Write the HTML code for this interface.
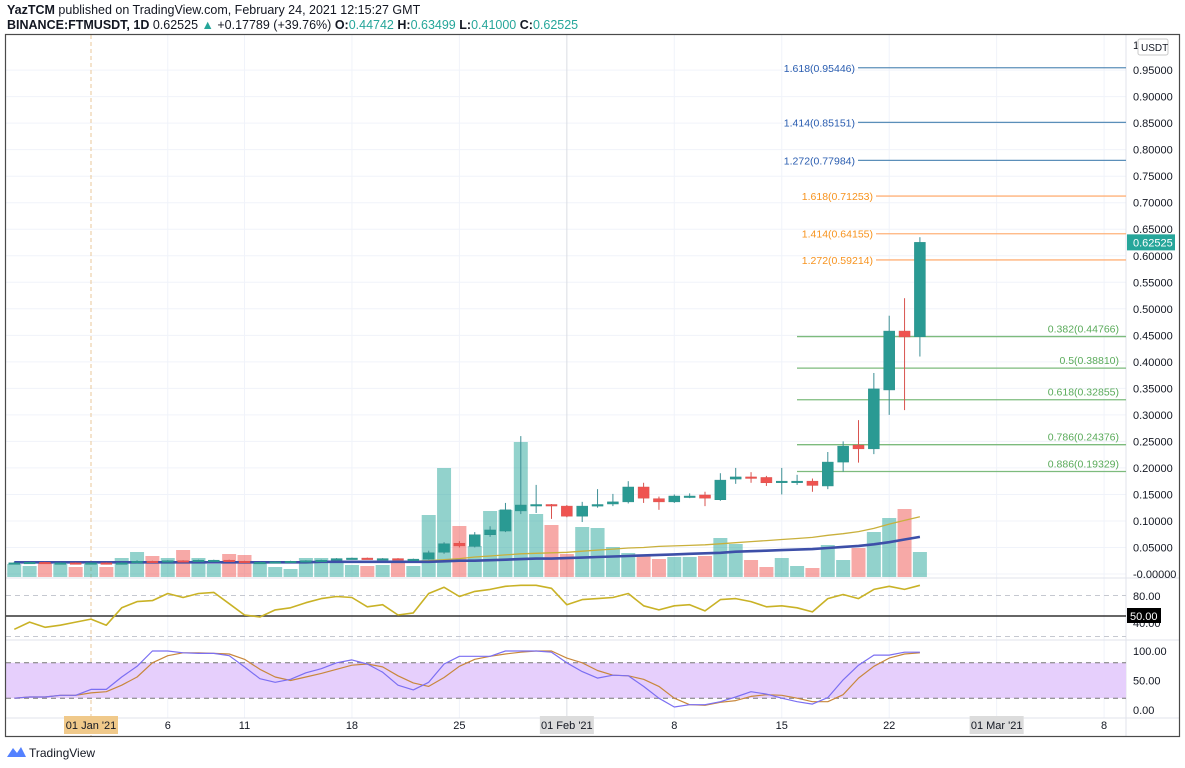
<!DOCTYPE html>
<html><head><meta charset="utf-8"><style>
html,body{margin:0;padding:0;background:#fff;}
svg{display:block;font-family:"Liberation Sans",sans-serif;}
</style></head><body>
<svg id="c" width="1185" height="768" viewBox="0 0 1185 768" xmlns="http://www.w3.org/2000/svg">
<text x="7" y="14" font-size="12.5" fill="#131722"><tspan font-weight="bold">YazTCM</tspan> published on TradingView.com, February 24, 2021 12:15:27 GMT</text>
<text x="7" y="29" font-size="12.5" fill="#131722"><tspan font-weight="bold">BINANCE:FTMUSDT, 1D</tspan> 0.62525 <tspan fill="#26a69a">▲</tspan> +0.17789 (+39.76%) <tspan font-weight="bold">O:</tspan><tspan fill="#26a69a">0.44742</tspan> <tspan font-weight="bold">H:</tspan><tspan fill="#26a69a">0.63499</tspan> <tspan font-weight="bold">L:</tspan><tspan fill="#26a69a">0.41000</tspan> <tspan font-weight="bold">C:</tspan><tspan fill="#26a69a">0.62525</tspan></text>
<g id="grid"></g><g id="fib"></g><g id="vol"></g><g id="ma"></g><g id="candles"></g><g id="rsi"></g><g id="stoch"></g><g id="axes"></g>
<rect x="5.5" y="34.5" width="1174" height="702" fill="none" stroke="#4a4a4a" stroke-width="1.2"/>
<g>
<path d="M7 757 L13 748 L17 753 L21 747 L26 757 Z" fill="#2962ff" opacity="0.8"/>
<text x="29" y="757" font-size="12" fill="#131722">TradingView</text></g>
</svg>
<script>
const dates=['Dec27','Dec28','Dec29','Dec30','Dec31','Jan1','Jan2','Jan3','Jan4','Jan5','Jan6','Jan7','Jan8','Jan9','Jan10','Jan11','Jan12','Jan13','Jan14','Jan15','Jan16','Jan17','Jan18','Jan19','Jan20','Jan21','Jan22','Jan23','Jan24','Jan25','Jan26','Jan27','Jan28','Jan29','Jan30','Jan31','Feb1','Feb2','Feb3','Feb4','Feb5','Feb6','Feb7','Feb8','Feb9','Feb10','Feb11','Feb12','Feb13','Feb14','Feb15','Feb16','Feb17','Feb18','Feb19','Feb20','Feb21','Feb22','Feb23','Feb24'];
const opens=[.020,.021,.022,.021,.021,.020,.021,.019,.021,.024,.023,.025,.024,.026,.026,.024,.022,.022,.023,.024,.025,.026,.029,.030,.029,.029,.028,.028,.041,.058,.052,.074,.081,.119,.130,.131,.128,.109,.128,.132,.136,.164,.142,.136,.146,.149,.140,.179,.183,.182,.174,.174,.175,.166,.211,.243,.236,.347,.458,.44742];
const closes=[.021,.022,.021,.021,.020,.021,.019,.021,.024,.023,.025,.024,.026,.026,.024,.022,.022,.023,.024,.025,.026,.029,.030,.029,.029,.028,.028,.040,.057,.053,.074,.083,.121,.130,.131,.129,.109,.128,.131,.136,.164,.143,.136,.147,.147,.143,.177,.183,.182,.172,.175,.175,.167,.211,.241,.236,.349,.458,.447,.62525];
const highs=[.023,.023,.023,.022,.022,.022,.022,.022,.026,.025,.026,.026,.027,.027,.027,.025,.023,.024,.025,.026,.027,.030,.031,.031,.030,.030,.029,.044,.060,.062,.079,.090,.134,.260,.168,.132,.130,.136,.160,.151,.175,.172,.146,.150,.152,.155,.190,.200,.192,.185,.200,.187,.180,.230,.250,.290,.379,.487,.520,.63499];
const lows=[.019,.020,.020,.020,.019,.019,.018,.018,.020,.022,.022,.023,.023,.025,.023,.021,.021,.021,.022,.023,.024,.025,.028,.028,.028,.027,.027,.027,.038,.050,.050,.070,.079,.113,.115,.104,.107,.098,.125,.128,.133,.134,.121,.134,.143,.128,.138,.170,.172,.166,.150,.168,.155,.160,.193,.210,.226,.300,.309,.410];
const volumes=[13,11,14,13,10,13,10,19,25,21,19,27,19,13,23,22,16,10,8,19,19,14,12,11,12,14,11,62,109,51,31,66,67,135,63,52,23,50,49,30,24,22,18,20,20,21,39,33,17,10,19,11,9,32,17,29,45,59,68,25];
const maFast=[.021,.021,.021,.021,.021,.021,.021,.021,.021,.022,.022,.022,.022,.022,.022,.022,.022,.022,.022,.023,.023,.023,.023,.023,.023,.024,.024,.025,.027,.029,.032,.034,.036,.038,.039,.040,.041,.043,.045,.047,.049,.050,.052,.053,.054,.055,.057,.059,.061,.063,.065,.067,.069,.073,.076,.080,.086,.094,.101,.108];
const maSlow=[.022,.022,.022,.022,.022,.022,.022,.022,.022,.022,.022,.022,.022,.022,.022,.022,.022,.022,.022,.022,.023,.023,.023,.023,.023,.023,.023,.023,.024,.025,.025,.026,.027,.028,.029,.029,.030,.031,.032,.033,.034,.035,.036,.037,.038,.039,.040,.042,.043,.044,.045,.046,.047,.049,.051,.053,.056,.060,.065,.070];
const rsiVals=[37,44,39,41,44,47,41,58,64,65,72,68,72,73,62,51,49,56,58,63,67,69,68,59,61,51,53,72,78,69,74,76,79,80,80,77,61,66,67,68,72,60,56,60,61,55,66,67,64,59,60,58,54,67,71,67,76,79,76,80];
const stochK=[20,22,22,25,25,35,35,56,74,100,100,97,96,96,92,73,53,47,52,63,70,80,85,78,64,42,34,47,78,91,91,91,100,100,100,98,80,65,54,59,58,40,20,5,9,9,14,22,31,27,20,14,10,21,51,76,93,93,98,98];
const stochD=[20,22,22,25,25,29,31,42,56,80,92,97,97,96,95,86,69,56,50,56,62,69,76,78,73,58,46,40,55,74,86,91,95,98,100,100,88,80,67,59,58,52,40,20,9,8,13,16,23,26,25,20,14,14,26,54,74,88,95,97];
const priceTicks=[0,.05,.10,.15,.20,.25,.30,.35,.40,.45,.50,.55,.60,.65,.70,.75,.80,.85,.90,.95];
const fibLevels=[0.95446,0.85151,0.77984,0.71253,0.64155,0.59214,0.44766,0.38810,0.32855,0.24376,0.19329];
const fibRatios=['1.618','1.414','1.272','1.618','1.414','1.272','0.382','0.5','0.618','0.786','0.886'];
const fibGroups=['blue','blue','blue','orange','orange','orange','green','green','green','green','green'];
const timeLabels=['6','11','18','25','8','15','22','8'];
const timeIdx=[10,15,22,29,43,50,57,71];

const NS='http://www.w3.org/2000/svg';
const xOf=i=>91+15.35*(i-5);
const yP=p=>574-530.4*p;
const yV=v=>577-v;
const yR=v=>616-(v-50)*1.025;
const yS=v=>710-v*0.59;
function mk(par,tag,at){const e=document.createElementNS(NS,tag);for(const k in at)e.setAttribute(k,at[k]);document.getElementById(par).appendChild(e);return e;}

// grid
priceTicks.forEach(p=>{const l=mk('grid','line',{x1:6,x2:1126,y1:yP(p),y2:yP(p),stroke:'#f0f3fa'});

});
timeIdx.concat([36,64]).forEach(d=>{const l=mk('grid','line',{x1:xOf(d),x2:xOf(d),y1:35,y2:718,stroke:d===36?'#dadde3':'#f0f3fa'});

});
let jl=mk('grid','line',{x1:xOf(5),x2:xOf(5),y1:35,y2:736,stroke:'#e8c79a','stroke-dasharray':'4,3'});


[[578,'#e0e3eb'],[640,'#e0e3eb'],[718,'#e0e3eb']].forEach(a=>{const l=mk('grid','line',{x1:6,x2:1179,y1:a[0],y2:a[0],stroke:a[1]});

});
let ax=mk('grid','line',{x1:1126,x2:1126,y1:35,y2:736,stroke:'#e0e3eb'});



// fib
const fibCol={blue:['#5b8fb9','#2a5db0'],orange:['#ffb27a','#f7931e'],green:['#7dbb7d','#5aab5a']};
const fibStart={blue:858,orange:876,green:797};
fibLevels.forEach((lv,i)=>{const g=fibGroups[i],y=yP(lv);
const l=mk('fib','line',{x1:fibStart[g],x2:1126,y1:y,y2:y,stroke:fibCol[g][0],'stroke-width':1.3});


const t=mk('fib','text',{'font-size':10.5,fill:fibCol[g][1],'text-anchor':'end'});
if(g==='green'){t.setAttribute('x',1119);t.setAttribute('y',y-4);}else{t.setAttribute('x',fibStart[g]-3);t.setAttribute('y',y+4);}
t.textContent=fibRatios[i]+'('+lv.toFixed(5)+')';

});

// volume
volumes.forEach((v,i)=>{const up=closes[i]>=opens[i];
const r=mk('vol','rect',{x:xOf(i)-7,y:yV(v),width:14,height:v,fill:up?'rgba(38,166,154,0.5)':'rgba(239,83,80,0.5)'});

});

// MAs
function line(par,arr,yf,col,w,name){const d=arr.map((v,i)=>(i?'L':'M')+xOf(i).toFixed(1)+' '+yf(v).toFixed(1)).join(' ');
const p=mk(par,'path',{d:d,fill:'none',stroke:col,'stroke-width':w,'stroke-linejoin':'round'});

}
line('ma',maFast,yP,'#c9b03c',1.3,'fast-ma-line');
line('ma',maSlow,yP,'#3d4fa8',2.6,'slow-ma-line');

// candles
opens.forEach((o,i)=>{const c=closes[i],up=c>=o,col=up?'#2a9a93':'#ef5350',x=xOf(i);
const w=mk('candles','line',{x1:x,x2:x,y1:yP(highs[i]),y2:yP(lows[i]),stroke:up?'#3d8f95':'#d9534f','stroke-width':1});


const t=yP(Math.max(o,c)),b=yP(Math.min(o,c));
const r=mk('candles','rect',{x:x-5.5,y:t,width:11,height:Math.max(1.5,b-t),fill:col,stroke:up?'#2b8f8a':'#d9534f','stroke-width':0.5});

});

// RSI pane
[70,30].forEach(v=>{const l=mk('rsi','line',{x1:6,x2:1126,y1:yR(v),y2:yR(v),stroke:'#c5c8d0','stroke-dasharray':'5,4'});

});
let ml=mk('rsi','line',{x1:6,x2:1126,y1:yR(50),y2:yR(50),stroke:'#333','stroke-width':1.5});


line('rsi',rsiVals,yR,'#c9b226',1.6,'rsi-line');

// stoch pane
let band=mk('stoch','rect',{x:6,y:yS(80),width:1120,height:yS(20)-yS(80),fill:'#e6cffc'});


[80,20].forEach(v=>{const l=mk('stoch','line',{x1:6,x2:1126,y1:yS(v),y2:yS(v),stroke:'#777','stroke-dasharray':'5,4'});

});
line('stoch',stochD,yS,'#c8873c',1.2,'stoch-d-line');
line('stoch',stochK,yS,'#7b6ff2',1.2,'stoch-k-line');

// axes labels
function txt(x,y,s,name,opt){const t=mk('axes','text',Object.assign({x:x,y:y,'font-size':11,fill:'#131722'},opt||{}));t.textContent=s;

return t;}
priceTicks.forEach(p=>{txt(1133,yP(p)+4,(p===0?'-':'')+p.toFixed(5),'price-tick-label');});
txt(1133,49,'1','price-tick-label');
let ub=mk('axes','rect',{x:1138,y:39,width:30,height:16,rx:2,fill:'#fff',stroke:'#c8c8c8'});


txt(1141,51,'USDT','currency-label',{'font-size':10});
let lp=mk('axes','rect',{x:1127,y:yP(0.62525)-8,width:48,height:16,fill:'#26a69a'});


txt(1133,yP(0.62525)+4,'0.62525','last-price-label',{fill:'#fff'});
txt(1133,600,'80.00','rsi-tick-label');
txt(1133,627,'40.00','rsi-tick-label');
let rb=mk('axes','rect',{x:1127,y:608,width:34,height:15,fill:'#000'});


txt(1130,620,'50.00','rsi-value-label',{fill:'#fff'});
txt(1133,yS(100)+4,'100.00','stoch-tick-label');
txt(1133,yS(50)+4,'50.00','stoch-tick-label');
txt(1133,yS(0)+4,'0.00','stoch-tick-label');
timeLabels.forEach((s,i)=>txt(xOf(timeIdx[i]),729,s,'time-tick-label',{'text-anchor':'middle'}));
[[5,"01 Jan '21",'#f0c98a'],[36,"01 Feb '21",'#dcdcdc'],[64,"01 Mar '21",'#dcdcdc']].forEach(a=>{
const r=mk('axes','rect',{x:xOf(a[0])-27,y:716,width:54,height:18,fill:a[2]});


txt(xOf(a[0]),729,a[1],'date-tag-label',{'text-anchor':'middle'});});
</script>
</body></html>
